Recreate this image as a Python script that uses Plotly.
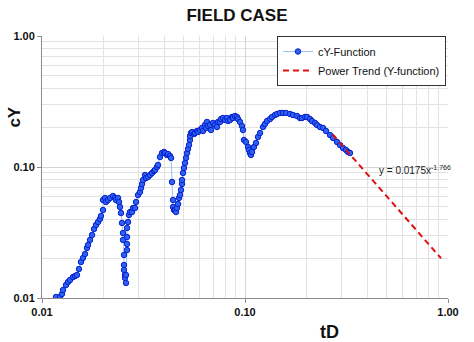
import plotly.graph_objects as go

# cY-Function data (tD, cY)
td_values = [
    0.01172, 0.01226, 0.01254, 0.01269, 0.01313, 0.01343, 0.01374, 0.01421, 0.01455, 0.01487,
    0.01521, 0.01556, 0.01592, 0.01629, 0.01666, 0.01685, 0.01724, 0.01764, 0.01804, 0.01845,
    0.01888, 0.01930, 0.01952, 0.01998, 0.01998, 0.02044, 0.02067, 0.02114, 0.02163, 0.02238,
    0.02288, 0.02314, 0.02368, 0.02395, 0.02422, 0.02450, 0.02478, 0.02506, 0.02506, 0.02535,
    0.02535, 0.02535, 0.02564, 0.02564, 0.02593, 0.02593, 0.02623, 0.02623, 0.02623, 0.02623,
    0.02653, 0.02683, 0.02714, 0.02776, 0.02808, 0.02872, 0.02905, 0.02972, 0.03040, 0.03075,
    0.03110, 0.03145, 0.03218, 0.03254, 0.03328, 0.03404, 0.03483, 0.03563, 0.03604, 0.03687,
    0.03728, 0.03814, 0.03902, 0.03990, 0.04037, 0.04128, 0.04177, 0.04272, 0.04321, 0.04371,
    0.04421, 0.04421, 0.04470, 0.04522, 0.04573, 0.04624, 0.04677, 0.04731, 0.04784, 0.04839,
    0.04895, 0.04895, 0.04951, 0.05007, 0.05064, 0.05122, 0.05181, 0.05240, 0.05299, 0.05360,
    0.05360, 0.05420, 0.05483, 0.05609, 0.05673, 0.05802, 0.05869, 0.06003, 0.06141, 0.06212,
    0.06353, 0.06426, 0.06500, 0.06575, 0.06724, 0.06802, 0.06956, 0.07116, 0.07279, 0.07362,
    0.07530, 0.07617, 0.07792, 0.07970, 0.08152, 0.08245, 0.08436, 0.08630, 0.08728, 0.08929,
    0.09133, 0.09237, 0.09449, 0.09665, 0.09775, 0.09886, 0.1011, 0.1035, 0.1046, 0.1058,
    0.1070, 0.1083, 0.1107, 0.1133, 0.1159, 0.1186, 0.1227, 0.1254, 0.1284, 0.1328,
    0.1358, 0.1405, 0.1438, 0.1487, 0.1539, 0.1592, 0.1666, 0.1724, 0.1804, 0.1866,
    0.1909, 0.1975, 0.2021, 0.2090, 0.2138, 0.2213, 0.2263, 0.2342, 0.2423, 0.2506,
    0.2623, 0.2714, 0.2840, 0.2938, 0.3040, 0.3145, 0.3218, 0.3290,
]
cy_values = [
    0.01018, 0.01018, 0.01073, 0.01151, 0.01256, 0.01324, 0.01372, 0.01445, 0.01472, 0.01499,
    0.01665, 0.01883, 0.02020, 0.02168, 0.02409, 0.02540, 0.02773, 0.03027, 0.03363, 0.03608,
    0.03802, 0.04009, 0.04224, 0.04695, 0.05598, 0.05800, 0.05404, 0.05598, 0.05800, 0.06009,
    0.05800, 0.05598, 0.05800, 0.05404, 0.04950, 0.04453, 0.03738, 0.03134, 0.02773, 0.02130,
    0.01786, 0.01636, 0.01499, 0.01422, 0.01302, 0.01499, 0.02323, 0.02584, 0.02921, 0.03422,
    0.03802, 0.04302, 0.04531, 0.04531, 0.04864, 0.04864, 0.05404, 0.06109, 0.06446, 0.06910,
    0.07413, 0.07955, 0.08690, 0.08241, 0.08390, 0.08690, 0.08999, 0.09318, 0.09484, 0.1000,
    0.1036, 0.1192, 0.1279, 0.1302, 0.1279, 0.1235, 0.1257, 0.1213, 0.1172, 0.07678,
    0.05598, 0.04950, 0.04695, 0.04695, 0.04531, 0.04864, 0.05222, 0.05800, 0.06109, 0.06675,
    0.07413, 0.07955, 0.08999, 0.09825, 0.1073, 0.1172, 0.1279, 0.1372, 0.1472, 0.1608,
    0.1724, 0.1818, 0.1849, 0.1786, 0.1818, 0.1883, 0.1849, 0.1916, 0.1986, 0.1883,
    0.2094, 0.1986, 0.2207, 0.2056, 0.2094, 0.1916, 0.2169, 0.2094, 0.2020, 0.2207,
    0.2207, 0.2325, 0.2366, 0.2285, 0.2366, 0.2244, 0.2285, 0.2409, 0.2366, 0.2451,
    0.2409, 0.2325, 0.2207, 0.2056, 0.1916, 0.1608, 0.1552, 0.1422, 0.1348, 0.1279,
    0.1235, 0.1302, 0.1422, 0.1525, 0.1695, 0.1818, 0.2020, 0.2130, 0.2244, 0.2325,
    0.2409, 0.2493, 0.2540, 0.2584, 0.2584, 0.2584, 0.2540, 0.2493, 0.2451, 0.2366,
    0.2366, 0.2409, 0.2409, 0.2325, 0.2244, 0.2169, 0.2094, 0.2020, 0.1986, 0.1883,
    0.1755, 0.1665, 0.1552, 0.1472, 0.1397, 0.1348, 0.1302, 0.1279,
]

# Power trend line end points (y = 0.0175 x^-1.766)
trend_td = [0.27, 0.924]
trend_cy = [0.177, 0.0201]

tick_vals = [0.01, 0.1, 1.0]
tick_text = ["0.01", "0.10", "1.00"]
minor_vals = [0.02, 0.03, 0.04, 0.05, 0.06, 0.07, 0.08, 0.09,
              0.2, 0.3, 0.4, 0.5, 0.6, 0.7, 0.8, 0.9]

fig = go.Figure()
fig.add_trace(go.Scatter(
    x=td_values, y=cy_values, mode="lines+markers", name="cY-Function",
    line=dict(color="#9cc3f0", width=1),
    marker=dict(symbol="circle", size=5.5, color="#2a63f0",
                line=dict(color="#0a1ed0", width=1)),
))
fig.add_trace(go.Scatter(
    x=trend_td, y=trend_cy, mode="lines", name="Power Trend (Y-function)",
    line=dict(color="#e01010", width=2, dash="6px,4px"),
))

axis_common = dict(
    type="log", range=[-2, 0], tickvals=tick_vals, ticktext=tick_text,
    showgrid=True, gridcolor="#d4d4d4", gridwidth=1,
    showline=True, linecolor="#8c8c8c", linewidth=1,
    ticks="outside", ticklen=4, tickcolor="#8c8c8c",
    tickfont=dict(family="Arial", size=11, color="#111111", weight="bold"),
    minor=dict(tickvals=minor_vals, showgrid=True, gridcolor="#e2e2e2", gridwidth=1, ticks=""),
    zeroline=False,
)

fig.update_layout(
    width=474, height=342,
    margin=dict(l=42, r=26, t=36, b=44),
    paper_bgcolor="white", plot_bgcolor="white",
    title=dict(text="<b>FIELD CASE</b>", x=0.5, xanchor="center", y=0.955, yanchor="middle",
               font=dict(family="Arial", size=17, color="#111111")),
    xaxis=dict(**axis_common),
    yaxis=dict(**axis_common),
    showlegend=True,
    legend=dict(x=0.995, xanchor="right", y=1.0, yanchor="top",
                bgcolor="white", bordercolor="#333333", borderwidth=1,
                font=dict(family="Arial", size=11, color="#111111"),
                tracegroupgap=2, itemwidth=30),
    annotations=[
        dict(text="y = 0.0175x<sup>-1.766</sup>", xref="paper", yref="paper",
             x=0.825, y=0.49, xanchor="left", yanchor="middle", showarrow=False,
             font=dict(family="Arial", size=10, color="#222222")),
        dict(text="<b>cY</b>", xref="paper", yref="paper", x=-0.068, y=0.69,
             xanchor="center", yanchor="middle", textangle=-90, showarrow=False,
             font=dict(family="Arial", size=17, color="#111111")),
        dict(text="<b>tD</b>", xref="paper", yref="paper", x=0.707, y=-0.13,
             xanchor="center", yanchor="middle", showarrow=False,
             font=dict(family="Arial", size=18, color="#111111")),
    ],
)

fig.write_html("out.html")
